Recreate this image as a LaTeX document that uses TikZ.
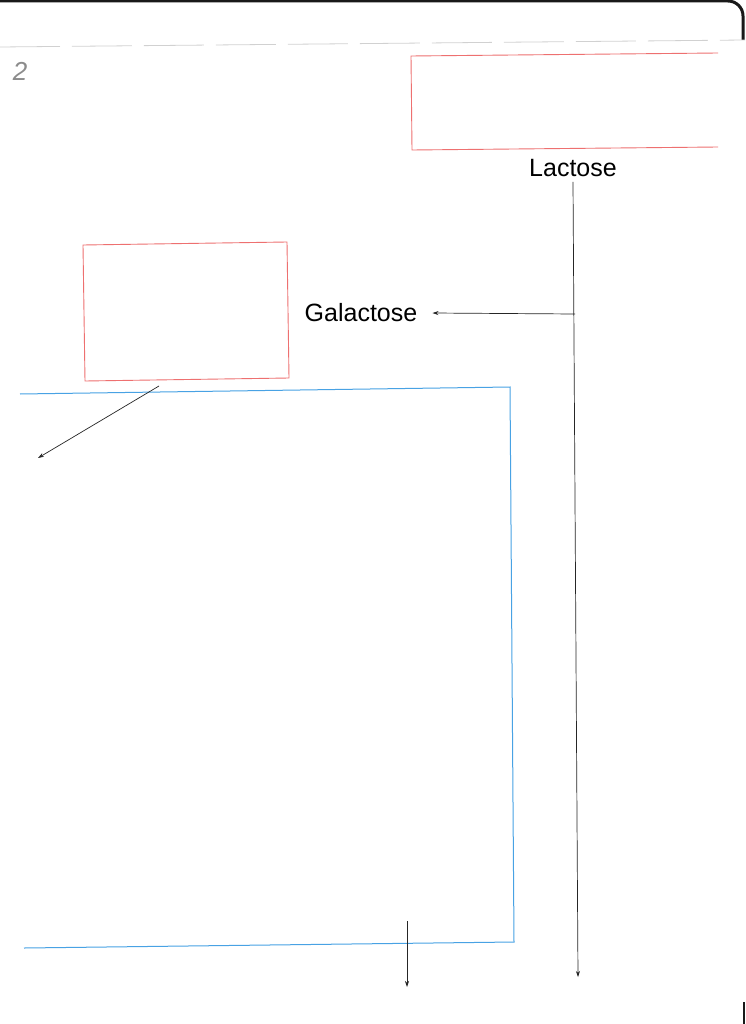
\documentclass[tikz,border=0pt]{standalone}
\usepackage{fontspec}
\setmainfont{Liberation Sans}
\usetikzlibrary{arrows.meta}
\definecolor{boxred}{RGB}{238,112,112}
\definecolor{boxblue}{RGB}{72,162,228}
\tikzset{
	redbox/.style={draw=boxred, line width=0.9pt},
	bluebox/.style={draw=boxblue, line width=1pt},
	flow/.style={draw=black!85, line width=0.7pt, -{Stealth[length=6pt,width=4pt]}},
	sugar/.style={font=\fontsize{25}{28}\selectfont, inner sep=1pt}
}
\begin{document}
\begin{tikzpicture}[x=1pt, y=-1pt]
			%%%%% START %%%%%
			
			\useasboundingbox[fill=white] (0, 0) rectangle (745, 1024);
			
			% scan edges
			\draw[line width=3pt, black!90] (0, 1) -- (728, 1) to[out=0, in=90] (743, 16) -- (743, 40);
			\draw[line width=2pt, black!90] (744, 1002) -- (744, 1024);
			\draw[line width=0.8pt, black!18, dash pattern=on 60pt off 12pt] (0, 47) -- (745, 40);
			\node[text=black!45, font=\itshape\fontsize{26}{28}\selectfont] (pagenum) at (20, 71) {2};
			
			% boxes
			\draw[redbox] (718, 53) -- (411, 56) -- (412, 150) -- (718, 147);
			\draw[redbox] (83, 245) -- (287, 242) -- (289, 378) -- (85, 381) -- cycle;
			\draw[bluebox] (20, 394) -- (510, 387) -- (514, 942) -- (24, 948);
			
			% labels
			\node[sugar] (lactose) at (573, 168) {Lactose};
			\node[sugar] (galactose) at (361, 313) {Galactose};
			
			\coordinate (lacend) at (578, 977);
			\coordinate (split) at (575, 314);
			\coordinate (boxout) at (159, 386);
			\coordinate (leftend) at (38, 458);
			\coordinate (exitin) at (407, 921);
			\coordinate (exitout) at (407, 987);
			
			% arrows
			\draw[flow] (lactose.south) ++(0, 4) -- (lacend);
			\draw[flow] (split) -- ([xshift=14pt]galactose.east);
			\draw[flow] (boxout) -- (leftend);
			\draw[flow] (exitin) -- (exitout);
			
			%%%%% END %%%%%
\end{tikzpicture}
\end{document}
